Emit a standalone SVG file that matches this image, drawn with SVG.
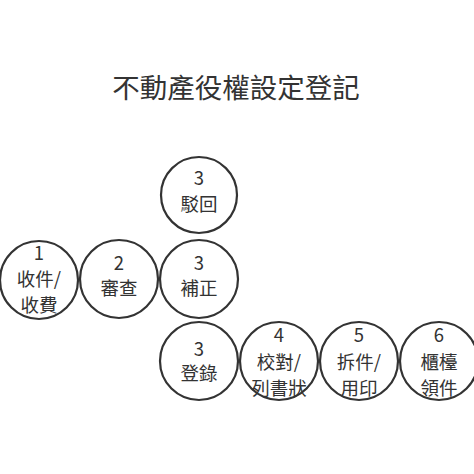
<svg xmlns="http://www.w3.org/2000/svg" width="474" height="474" viewBox="0 0 474 474">
<style>
.c{fill:none;stroke:#333;stroke-width:2.2}
.t{font-family:"Noto Sans CJK TC","Noto Sans CJK SC",sans-serif;font-size:18.5px;fill:#333;text-anchor:middle}
.title{font-family:"Noto Sans CJK TC","Noto Sans CJK SC",sans-serif;font-size:27.5px;fill:#333;text-anchor:middle}
</style>
<rect width="474" height="474" fill="#fff"/>
<text class="title" x="236" y="98">不動產役權設定登記</text>
<g id="connectors"></g>
<g id="n1">
<circle class="c" cx="39" cy="280" r="39"/>
<text class="t" x="39" y="260">1</text>
<text class="t" x="39" y="286">收件/</text>
<text class="t" x="39" y="312">收費</text>
</g>
<g id="n2">
<circle class="c" cx="119" cy="279" r="39"/>
<text class="t" x="119" y="270">2</text>
<text class="t" x="119" y="295">審查</text>
</g>
<g id="n3a">
<circle class="c" cx="199" cy="195" r="38"/>
<text class="t" x="199" y="185">3</text>
<text class="t" x="199" y="211">駁回</text>
</g>
<g id="n3b">
<circle class="c" cx="199" cy="279" r="39"/>
<text class="t" x="199" y="270">3</text>
<text class="t" x="199" y="295">補正</text>
</g>
<g id="n3c">
<circle class="c" cx="199" cy="361" r="39"/>
<text class="t" x="199" y="356">3</text>
<text class="t" x="199" y="380">登錄</text>
</g>
<g id="n4">
<circle class="c" cx="279" cy="361" r="39"/>
<text class="t" x="279" y="342">4</text>
<text class="t" x="279" y="369">校對/</text>
<text class="t" x="279" y="395">列書狀</text>
</g>
<g id="n5">
<circle class="c" cx="359" cy="361" r="39"/>
<text class="t" x="359" y="342">5</text>
<text class="t" x="359" y="369">拆件/</text>
<text class="t" x="359" y="395">用印</text>
</g>
<g id="n6">
<circle class="c" cx="439" cy="361" r="39"/>
<text class="t" x="439" y="342">6</text>
<text class="t" x="439" y="369">櫃檯</text>
<text class="t" x="439" y="395">領件</text>
</g>
</svg>
